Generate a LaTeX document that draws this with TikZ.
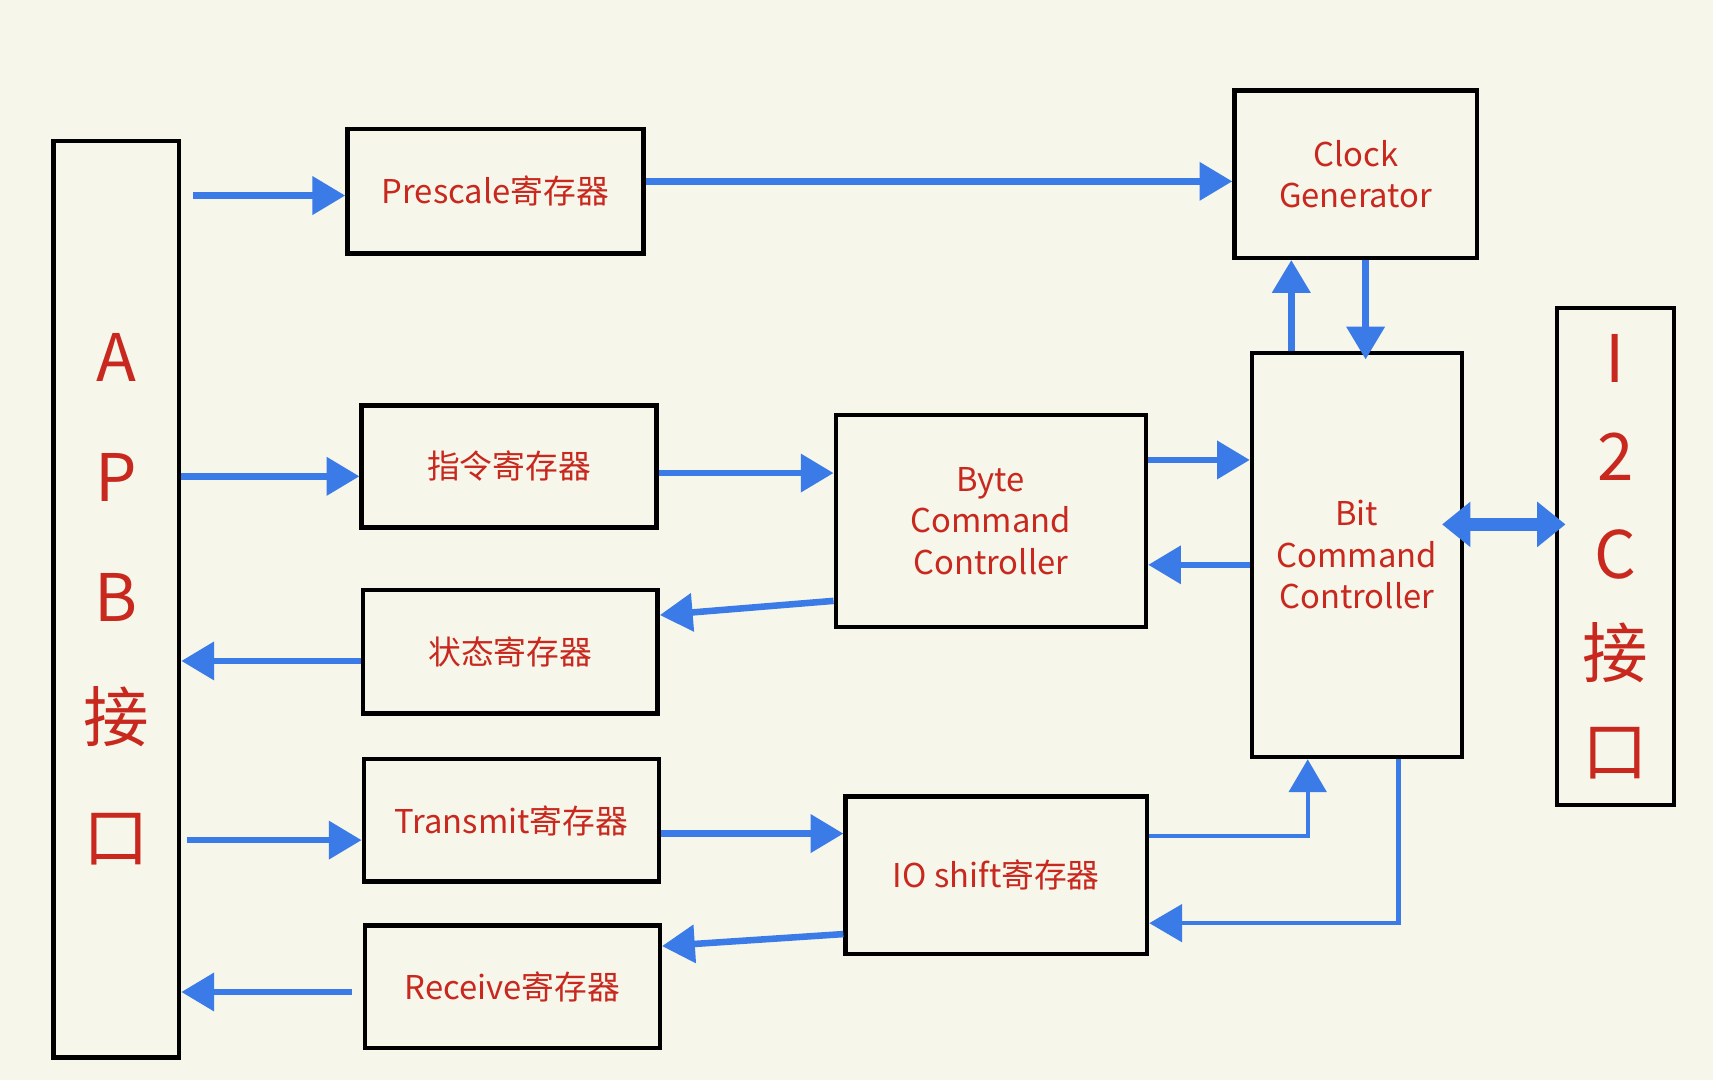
\documentclass[tikz,border=0pt]{standalone}
\usepackage{fontspec}
\newfontfamily\cjk{Noto Sans CJK SC}
\usetikzlibrary{arrows.meta}
\definecolor{bg}{HTML}{F6F6EA}
\definecolor{ab}{HTML}{3A7BE8}
\definecolor{tr}{HTML}{C8281E}
\begin{document}
\begin{tikzpicture}[x=1pt,y=-1pt,
 box/.style={draw=black,line width=4pt,inner sep=0pt,text=tr,font=\cjk\fontsize{30}{38}\selectfont,align=center},
 big/.style={font=\cjk\fontsize{60}{110}\selectfont},
 ar/.style={draw=ab,line width=6pt,-{Triangle[length=30pt,width=34pt]}},
 ar2/.style={draw=ab,line width=12pt,{Triangle[length=26pt,width=40pt]}-{Triangle[length=26pt,width=40pt]}}]
\fill[bg] (0,0) rectangle (1568,989);
\useasboundingbox (0,0) rectangle (1568,989);
\newcommand\bx[7]{\node[box,#7,minimum width=#4-#2,minimum height=#5-#3] (#1) at ({(#2+#4)/2},{(#3+#5)/2}) {#6};}
\bx{apb}{49}{129}{164}{968}{A\\P\\B\\接\\口}{big}
\bx{pre}{318}{118}{589}{232}{Prescale寄存器}{}
\bx{cmd}{331}{371}{601}{483}{指令寄存器}{}
\bx{st}{332}{540}{602}{653}{状态寄存器}{}
\bx{tx}{333}{695}{603}{807}{Transmit寄存器}{}
\bx{rx}{334}{847}{604}{959}{Receive寄存器}{}
\bx{byte}{765}{380}{1049}{574}{Byte\\Command\\Controller}{}
\bx{io}{774}{729}{1050}{873}{IO shift寄存器}{}
\bx{clk}{1130}{83}{1352}{236}{Clock\\Generator}{}
\bx{bit}{1146}{323}{1338}{693}{Bit\\Command\\Controller}{}
\bx{i2c}{1425}{282}{1532}{737}{I\\2\\C\\接\\口}{big,font=\cjk\fontsize{60}{90}\selectfont}
\coordinate (k1) at (1197,765);
\coordinate (k2) at (1280,845);
\draw[ar] (apb.east |- 0,179) ++(11,0) -- (pre.west |- 0,179);
\draw[ar] (pre.east |- 0,166) -- (clk.west |- 0,166);
\draw[ar] (apb.east |- 0,436) -- (cmd.west |- 0,436);
\draw[ar] (cmd.east |- 0,433) -- (byte.west |- 0,433);
\draw[ar] (byte.east |- 0,421) -- (bit.west |- 0,421);
\draw[ar] (bit.west |- 0,517) -- (byte.east |- 0,517);
\draw[ar] (byte.west |- 0,550) -- (st.east |- 0,563);
\draw[ar] (st.west |- 0,605) -- (apb.east |- 0,605);
\draw[ar] (apb.east |- 0,769) ++(5,0) -- (tx.west |- 0,769);
\draw[ar] (tx.east |- 0,763) -- (io.west |- 0,763);
\draw[ar] (io.west |- 0,855) -- (rx.east |- 0,866);
\draw[ar] (rx.west |- 0,908) ++(-10,0) -- (apb.east |- 0,908);
\draw[ar,line width=4pt] (io.east |- k1) -- (k1) -- (k1 |- bit.south);
\draw[ar,line width=4pt] (k2 |- bit.south) -- (k2) -- (io.east |- k2);
\draw[ar] (bit.north -| 1182,0) -- (clk.south -| 1182,0);
\draw[ar] (clk.south -| 1250,0) -- ([yshift=-8pt]bit.north -| 1250,0);
\draw[ar2] ([xshift=-20pt]bit.east |- 0,480) -- ([xshift=10pt]i2c.west |- 0,480);
\end{tikzpicture}
\end{document}
